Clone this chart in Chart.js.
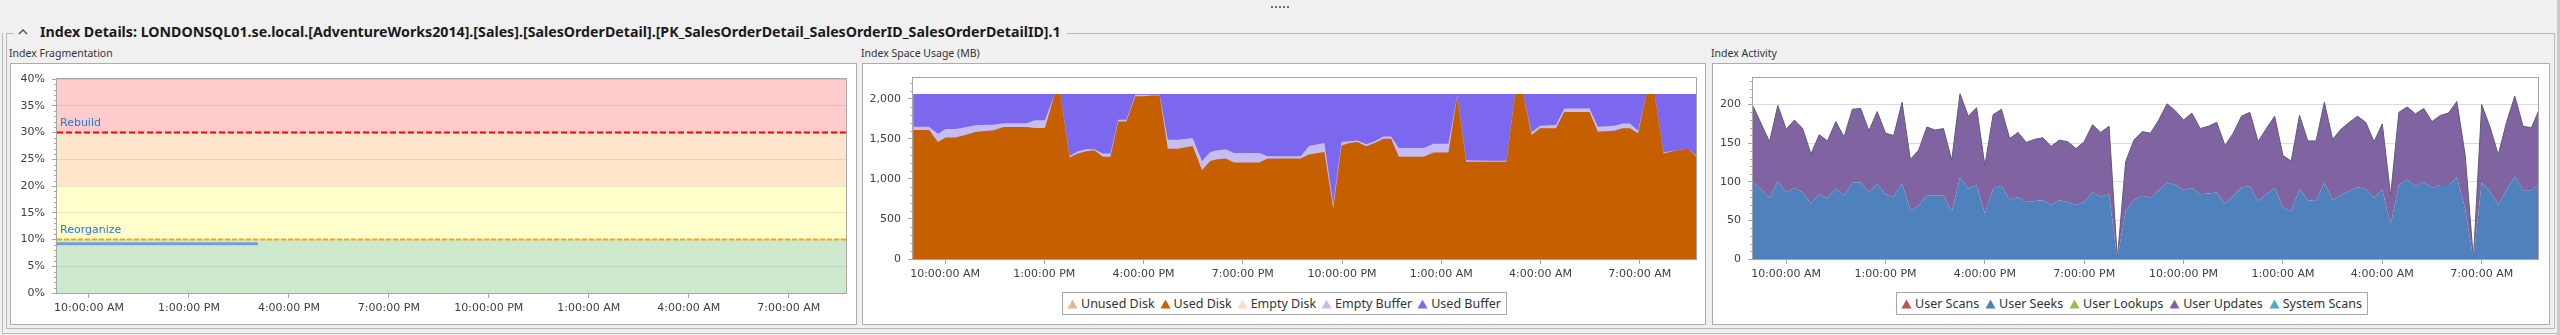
<!DOCTYPE html>
<html>
<head>
<meta charset="utf-8">
<script src="https://cdn.jsdelivr.net/npm/chart.js@4.4.0/dist/chart.umd.min.js"></script>
<style>
body{margin:0;width:2560px;height:335px;background:#f0f0f0;position:relative;overflow:hidden;font-family:"Noto Sans",sans-serif;}
.ln{position:absolute;background:#b9b9b9}
.box{position:absolute;top:63px;height:262px;background:#fff;border:1px solid #acacac;box-sizing:border-box}
.lbl{position:absolute;top:46px;font-size:10.5px;line-height:15px;color:#333;white-space:nowrap}
canvas{position:absolute;top:64px}
.legend{position:absolute;top:292px;height:23px;background:#fff;border:1px solid #a8a8a8;box-sizing:border-box;display:flex;align-items:center;justify-content:space-between;padding:0 5px 0 4px;font-size:12.5px;color:#333;white-space:nowrap}
.legend span{display:flex;align-items:center}
.legend svg{margin-right:3px}
#hdr{position:absolute;left:14px;top:21px;height:20px;padding:0 6px 0 4px;background:#f0f0f0;display:flex;align-items:center;white-space:nowrap}
#hdrText{font-weight:bold;font-size:12.5px;color:#1a1a1a;margin-left:12px}
.dot{position:absolute;top:6px;width:2px;height:2px;background:#6a6a6a}
</style>
</head>
<body>
<div class="dot" style="left:1271px"></div><div class="dot" style="left:1275px"></div><div class="dot" style="left:1279px"></div><div class="dot" style="left:1283px"></div><div class="dot" style="left:1287px"></div>

<!-- outer frame and group box -->
<div class="ln" style="left:2px;top:33px;width:1px;height:301px"></div>
<div class="ln" style="left:2px;top:333px;width:2556px;height:1px"></div>
<div class="ln" style="left:2557px;top:0;width:3px;height:335px;background:#c9c9c9"></div>
<div class="ln" style="left:6px;top:33px;width:2549px;height:1px"></div>
<div class="ln" style="left:6px;top:33px;width:1px;height:296px"></div>
<div class="ln" style="left:2554px;top:33px;width:1px;height:296px"></div>
<div class="ln" style="left:6px;top:328px;width:2549px;height:1px"></div>

<div id="hdr">
  <svg width="10" height="7" viewBox="0 0 10 7"><polyline points="1,6 5,2 9,6" fill="none" stroke="#4a4a4a" stroke-width="1.3"/></svg>
  <span id="hdrText">Index Details: LONDONSQL01.se.local.[AdventureWorks2014].[Sales].[SalesOrderDetail].[PK_SalesOrderDetail_SalesOrderID_SalesOrderDetailID].1</span>
</div>

<div class="lbl" style="left:9px">Index Fragmentation</div>
<div class="lbl" style="left:861px">Index Space Usage (MB)</div>
<div class="lbl" style="left:1711px">Index Activity</div>

<div class="box" style="left:10px;width:847px"></div>
<div class="box" style="left:862px;width:844px"></div>
<div class="box" style="left:1712px;width:838px"></div>

<canvas id="fragChart" width="845" height="260" style="left:11px"></canvas>
<canvas id="spaceChart" width="842" height="260" style="left:863px"></canvas>
<canvas id="activityChart" width="836" height="260" style="left:1713px"></canvas>

<div class="legend" id="spaceLegend" style="left:1062px;width:445px"></div>
<div class="legend" id="activityLegend" style="left:1896px;width:472px"></div>

<script>
// x axis: hours since midnight of the first day
var xTickHours=[10,13,16,19,22,25,28,31];
var xTickLabels=["10:00:00 AM","1:00:00 PM","4:00:00 PM","7:00:00 PM","10:00:00 PM","1:00:00 AM","4:00:00 AM","7:00:00 AM"];

// Index Fragmentation (%)
var fragTicks=[0,5,10,15,20,25,30,35,40];
var fragBandEdges=[0,10,20,30,40];
var rebuildLevel=30;
var reorganizeLevel=10;
var fragTimes=["09:02","15:04"];
var fragValues=[9.2,9.2];

// Index Space Usage (MB)
var spaceTicks=[0,500,1000,1500,2000];
var spaceTimes=["09:02","09:31","09:47","10:01","10:18","10:30","10:57","11:28","11:46","12:28",
"12:43","13:01","13:19","13:29","13:46","14:01","14:16","14:31","14:46","15:00",
"15:14","15:29","15:45","16:02","16:14","16:29","16:44","17:02","17:29","17:46",
"18:01","18:14","18:29","18:44","19:30","19:45","20:45","21:00","21:28","21:44",
"21:59","22:13","22:28","22:44","22:59","23:15","23:29","23:43","00:28","00:46",
"01:13","01:29","01:45","02:26","02:58","03:14","03:28","03:44","03:59","04:28",
"04:43","05:29","05:44","06:14","06:29","06:42","06:57","07:12","07:27","07:43",
"08:11","08:28","08:42"];
var usedDisk=[1611,1611,1460,1517,1517,1538,1591,1607,1648,1648,
1636,1636,2061,2061,1268,1317,1346,1358,1276,1276,
1718,1718,2033,2033,2041,2041,1378,1378,1411,1112,
1223,1247,1256,1207,1207,1256,1256,1305,1337,630,
1419,1448,1460,1407,1448,1501,1501,1276,1276,1329,
1329,2045,1215,1215,1215,2061,2061,1550,1632,1632,
1836,1836,1591,1603,1632,1632,1571,2061,2061,1317,
1366,1378,1284];
// top edge of the empty buffer band (used disk + empty buffer)
var emptyBufferTop=[1652,1652,1566,1624,1624,1636,1673,1677,1697,1697,
1734,1734,2061,2061,1288,1346,1370,1370,1317,1317,
1738,1738,2053,2053,2053,2053,1489,1489,1513,1223,
1337,1358,1370,1325,1325,1284,1284,1411,1448,683,
1460,1472,1481,1432,1472,1530,1530,1387,1387,1440,
1440,2053,1235,1227,1227,2061,2061,1583,1665,1673,
1881,1881,1652,1665,1693,1693,1603,2061,2061,1329,
1366,1378,1296];
// used buffer fills up to the allocated size
var bufferTimes=["09:02","08:42"];
var usedBufferTop=[2061,2061];
var spaceLegendLabels=["Unused Disk","Used Disk","Empty Disk","Empty Buffer","Used Buffer"];
var spaceLegendColors=["#e9b68b","#c55f00","#f6dccb","#c6bdf4","#7b68ee"];

// Index Activity
var activityTicks=[0,50,100,150,200];
var activityTimes=["09:00","09:15","09:30","09:45","10:00","10:15","10:30","10:45","11:00","11:15","11:30","11:45",
"12:00","12:15","12:30","12:45","13:00","13:15","13:30","13:45","14:00","14:15","14:30","14:45",
"15:00","15:15","15:30","15:45","16:00","16:15","16:30","16:45","17:00","17:15","17:30","17:45",
"18:00","18:15","18:30","18:45","19:00","19:15","19:30","19:45","20:00","20:15","20:30","20:45",
"21:00","21:15","21:30","21:45","22:00","22:15","22:30","22:45","23:00","23:15","23:30","23:45",
"00:00","00:15","00:30","00:45","01:00","01:15","01:30","01:45","02:00","02:15","02:30","02:45",
"03:00","03:15","03:30","03:45","04:00","04:15","04:30","04:45","05:00","05:15","05:30","05:45",
"06:00","06:15","06:30","06:45","07:00","07:15","07:30","07:45","08:00","08:15","08:30","08:45"];
var userSeeks=[99,90,79,101,86,92,86,72,84,79,91,83,99,99,87,97,84,81,98,63,69,83,82,83,61,106,91,96,59,91,95,77,80,74,75,76,70,76,74,70,74,86,81,84,0,
62,76,82,79,89,99,96,89,92,84,85,86,72,82,93,94,75,84,92,67,62,91,76,75,99,76,83,88,93,91,79,90,44,96,103,94,100,92,96,96,106,65,0,99,88,70,90,107,89,89,98];
var userUpdates=[99,85,73,98,82,88,83,64,77,74,87,75,95,96,79,94,79,79,105,66,72,88,85,86,67,108,94,100,62,96,99,79,84,77,80,81,76,78,78,73,78,88,83,88,0,
64,78,83,84,91,102,96,91,97,85,87,91,75,81,92,96,77,85,93,67,65,95,77,78,104,79,85,89,92,86,73,85,38,94,94,94,95,86,90,93,98,70,0,101,83,65,87,104,83,81,97];
var activityLegendLabels=["User Scans","User Seeks","User Lookups","User Updates","System Scans"];
var activityLegendColors=["#c0504d","#4f81bd","#9bbb59","#8064a2","#4bacc6"];

Chart.defaults.font.family="DejaVu Sans";
Chart.defaults.font.size=11;
Chart.defaults.color="#404040";
Chart.defaults.animation=false;

//turns "HH:MM" strings into hours, running past midnight
function toHours(list) {
    var day=0, prev=-1;
    return list.map(function(t) {
        var p=t.split(":");
        var v=parseInt(p[0])+parseInt(p[1])/60+day;
        if(v<prev) { day+=24; v+=24; }
        prev=v;
        return v;
    });
}
function points(times,values) {
    var h=toHours(times);
    return values.map(function(v,i) { return {x:h[i],y:v}; });
}

/*frame around the plot area*/
var plotFrame={
    id:'plotFrame',
    afterDatasetsDraw(chart) {
        var a=chart.chartArea, ctx=chart.ctx;
        ctx.save();
        ctx.strokeStyle='#a6a6a6';
        ctx.lineWidth=1;
        ctx.strokeRect(Math.round(a.left)-0.5,Math.round(a.top)-0.5,Math.round(a.right-a.left)+1,Math.round(a.bottom-a.top)+1);
        ctx.restore();
    }
};
/*small ticks between the labelled ones*/
var minorTicks={
    id:'minorTicks',
    afterDraw(chart,args,opts) {
        var y=chart.scales.y, ctx=chart.ctx;
        var vals=y.ticks.map(function(t) { return t.value; });
        var step=(vals[1]-vals[0])/(opts.count+1);
        ctx.save();
        ctx.strokeStyle='#a6a6a6';
        ctx.beginPath();
        for(var v=vals[0]+step; v<y.max; v+=step) {
            if(vals.indexOf(Math.round(v*1000)/1000)>=0) continue;
            var py=Math.round(y.getPixelForValue(v))+0.5;
            ctx.moveTo(y.right-3,py);
            ctx.lineTo(y.right,py);
        }
        ctx.stroke();
        ctx.restore();
    }
};

function xScale(min,max,h) {
    return {
        type:'linear', min:min, max:max,
        afterBuildTicks:function(s) { s.ticks=xTickHours.map(function(v) { return {value:v}; }); },
        afterFit:function(s) { s.height=h; },
        ticks:{ autoSkip:false, maxRotation:0, padding:4,
            callback:function(v) { return xTickLabels[xTickHours.indexOf(v)]; } },
        grid:{ drawOnChartArea:false, tickLength:5, tickColor:'#a6a6a6' },
        border:{ display:false }
    };
}
function yScale(ticks,max,w,gridColor,fmt) {
    return {
        min:0, max:max,
        afterBuildTicks:function(s) { s.ticks=ticks.map(function(v) { return {value:v}; }); },
        afterFit:function(s) { s.width=w; },
        ticks:{ padding:7, callback:fmt },
        grid:{ color:gridColor, tickLength:5, tickColor:'#a6a6a6' },
        border:{ display:false }
    };
}

// ---------- Index Fragmentation ----------
var fragBandColors=['#cee9ce','#ffffcc','#ffe5cc','#ffcccc'];
var fragBands={
    id:'fragBands',
    beforeDraw(chart) {
        var a=chart.chartArea, y=chart.scales.y, ctx=chart.ctx;
        ctx.save();
        for(var i=0;i<fragBandEdges.length-1;i++) {
            var top=y.getPixelForValue(fragBandEdges[i+1]);
            var bot=y.getPixelForValue(fragBandEdges[i]);
            ctx.fillStyle=fragBandColors[i];
            ctx.fillRect(a.left,top,a.right-a.left,bot-top);
        }
        ctx.restore();
    },
    afterDatasetsDraw(chart) {
        var a=chart.chartArea, y=chart.scales.y, ctx=chart.ctx;
        ctx.save();
        ctx.fillStyle='#2a78cf';
        ctx.font='11px "DejaVu Sans"';
        ctx.textBaseline='middle';
        ctx.fillText('Rebuild',a.left+3,y.getPixelForValue(rebuildLevel)-9);
        ctx.fillText('Reorganize',a.left+3,y.getPixelForValue(reorganizeLevel)-9);
        ctx.restore();
    }
};
var fragMin=9.04, fragMax=32.72;
new Chart(document.getElementById('fragChart'),{
    type:'line',
    data:{ datasets:[
        { label:'Fragmentation', data:points(fragTimes,fragValues), borderColor:'#6da2d8', borderWidth:3, pointRadius:0 },
        { label:'Reorganize', data:[{x:fragMin,y:reorganizeLevel},{x:fragMax,y:reorganizeLevel}], borderColor:'#ffa500', borderWidth:2, borderDash:[5,2], pointRadius:0 },
        { label:'Rebuild', data:[{x:fragMin,y:rebuildLevel},{x:fragMax,y:rebuildLevel}], borderColor:'#ff0000', borderWidth:2, borderDash:[6,3], pointRadius:0 }
    ]},
    options:{
        responsive:false,
        layout:{ padding:{ left:0, right:10, top:15, bottom:0 } },
        plugins:{ legend:{display:false}, tooltip:{enabled:false}, minorTicks:{count:4} },
        scales:{
            x:xScale(fragMin,fragMax,31),
            y:yScale(fragTicks,40,46,'rgba(0,0,0,0.09)',function(v) { return v+'%'; })
        }
    },
    plugins:[fragBands,plotFrame,minorTicks]
});

// ---------- Index Space Usage ----------
new Chart(document.getElementById('spaceChart'),{
    type:'line',
    data:{ datasets:[
        { label:'Used Disk', data:points(spaceTimes,usedDisk), backgroundColor:'#c55f00', borderColor:'#c55f00', borderWidth:0, fill:'origin', pointRadius:0 },
        { label:'Empty Buffer', data:points(spaceTimes,emptyBufferTop), backgroundColor:'#c6bdf4', borderColor:'#c6bdf4', borderWidth:0, fill:'origin', pointRadius:0 },
        { label:'Used Buffer', data:points(bufferTimes,usedBufferTop), backgroundColor:'#7b68ee', borderColor:'#7b68ee', borderWidth:0, fill:'origin', pointRadius:0 }
    ]},
    options:{
        responsive:false,
        layout:{ padding:{ left:0, right:9, top:10, bottom:0 } },
        plugins:{ legend:{display:false}, tooltip:{enabled:false}, minorTicks:{count:4} },
        scales:{
            x:xScale(9.03,32.7,65),
            y:yScale(spaceTicks,2266,50,'#dcdcdc',function(v) { return v.toLocaleString('en-US'); })
        }
    },
    plugins:[plotFrame,minorTicks]
});

// ---------- Index Activity ----------
new Chart(document.getElementById('activityChart'),{
    type:'line',
    data:{ labels:[], datasets:[
        { label:'User Seeks', data:points(activityTimes,userSeeks), backgroundColor:'#4f81bd', borderColor:'#4f81bd', borderWidth:0, fill:'origin', pointRadius:0 },
        { label:'User Updates', data:points(activityTimes,userUpdates), backgroundColor:'#8064a2', borderColor:'#5e5b78', borderWidth:1, fill:'-1', pointRadius:0 }
    ]},
    options:{
        responsive:false,
        layout:{ padding:{ left:0, right:11, top:10, bottom:0 } },
        plugins:{ legend:{display:false}, tooltip:{enabled:false}, minorTicks:{count:4} },
        scales:{
            x:xScale(9.0,32.7,65),
            y:Object.assign(yScale(activityTicks,235,40,'#dcdcdc'),{stacked:true})
        }
    },
    plugins:[plotFrame,minorTicks]
});

/*legends with triangle markers*/
function legend(id,labels,colors) {
    var el=document.getElementById(id);
    labels.forEach(function(l,i) {
        var s=document.createElement('span');
        s.innerHTML='<svg width="11" height="10" viewBox="0 0 11 10"><polygon points="5.5,0.5 10.5,9.5 0.5,9.5" fill="'+colors[i]+'"/></svg>'+l;
        el.appendChild(s);
    });
}
legend('spaceLegend',spaceLegendLabels,spaceLegendColors);
legend('activityLegend',activityLegendLabels,activityLegendColors);

/*header text width to the reference*/
var ht=document.getElementById('hdrText');
var fs=12.5;
for(var k=0;k<6;k++) {
    var w=ht.getBoundingClientRect().width;
    fs=fs*1020/w;
    ht.style.fontSize=fs+'px';
}
</script>
</body>
</html>
